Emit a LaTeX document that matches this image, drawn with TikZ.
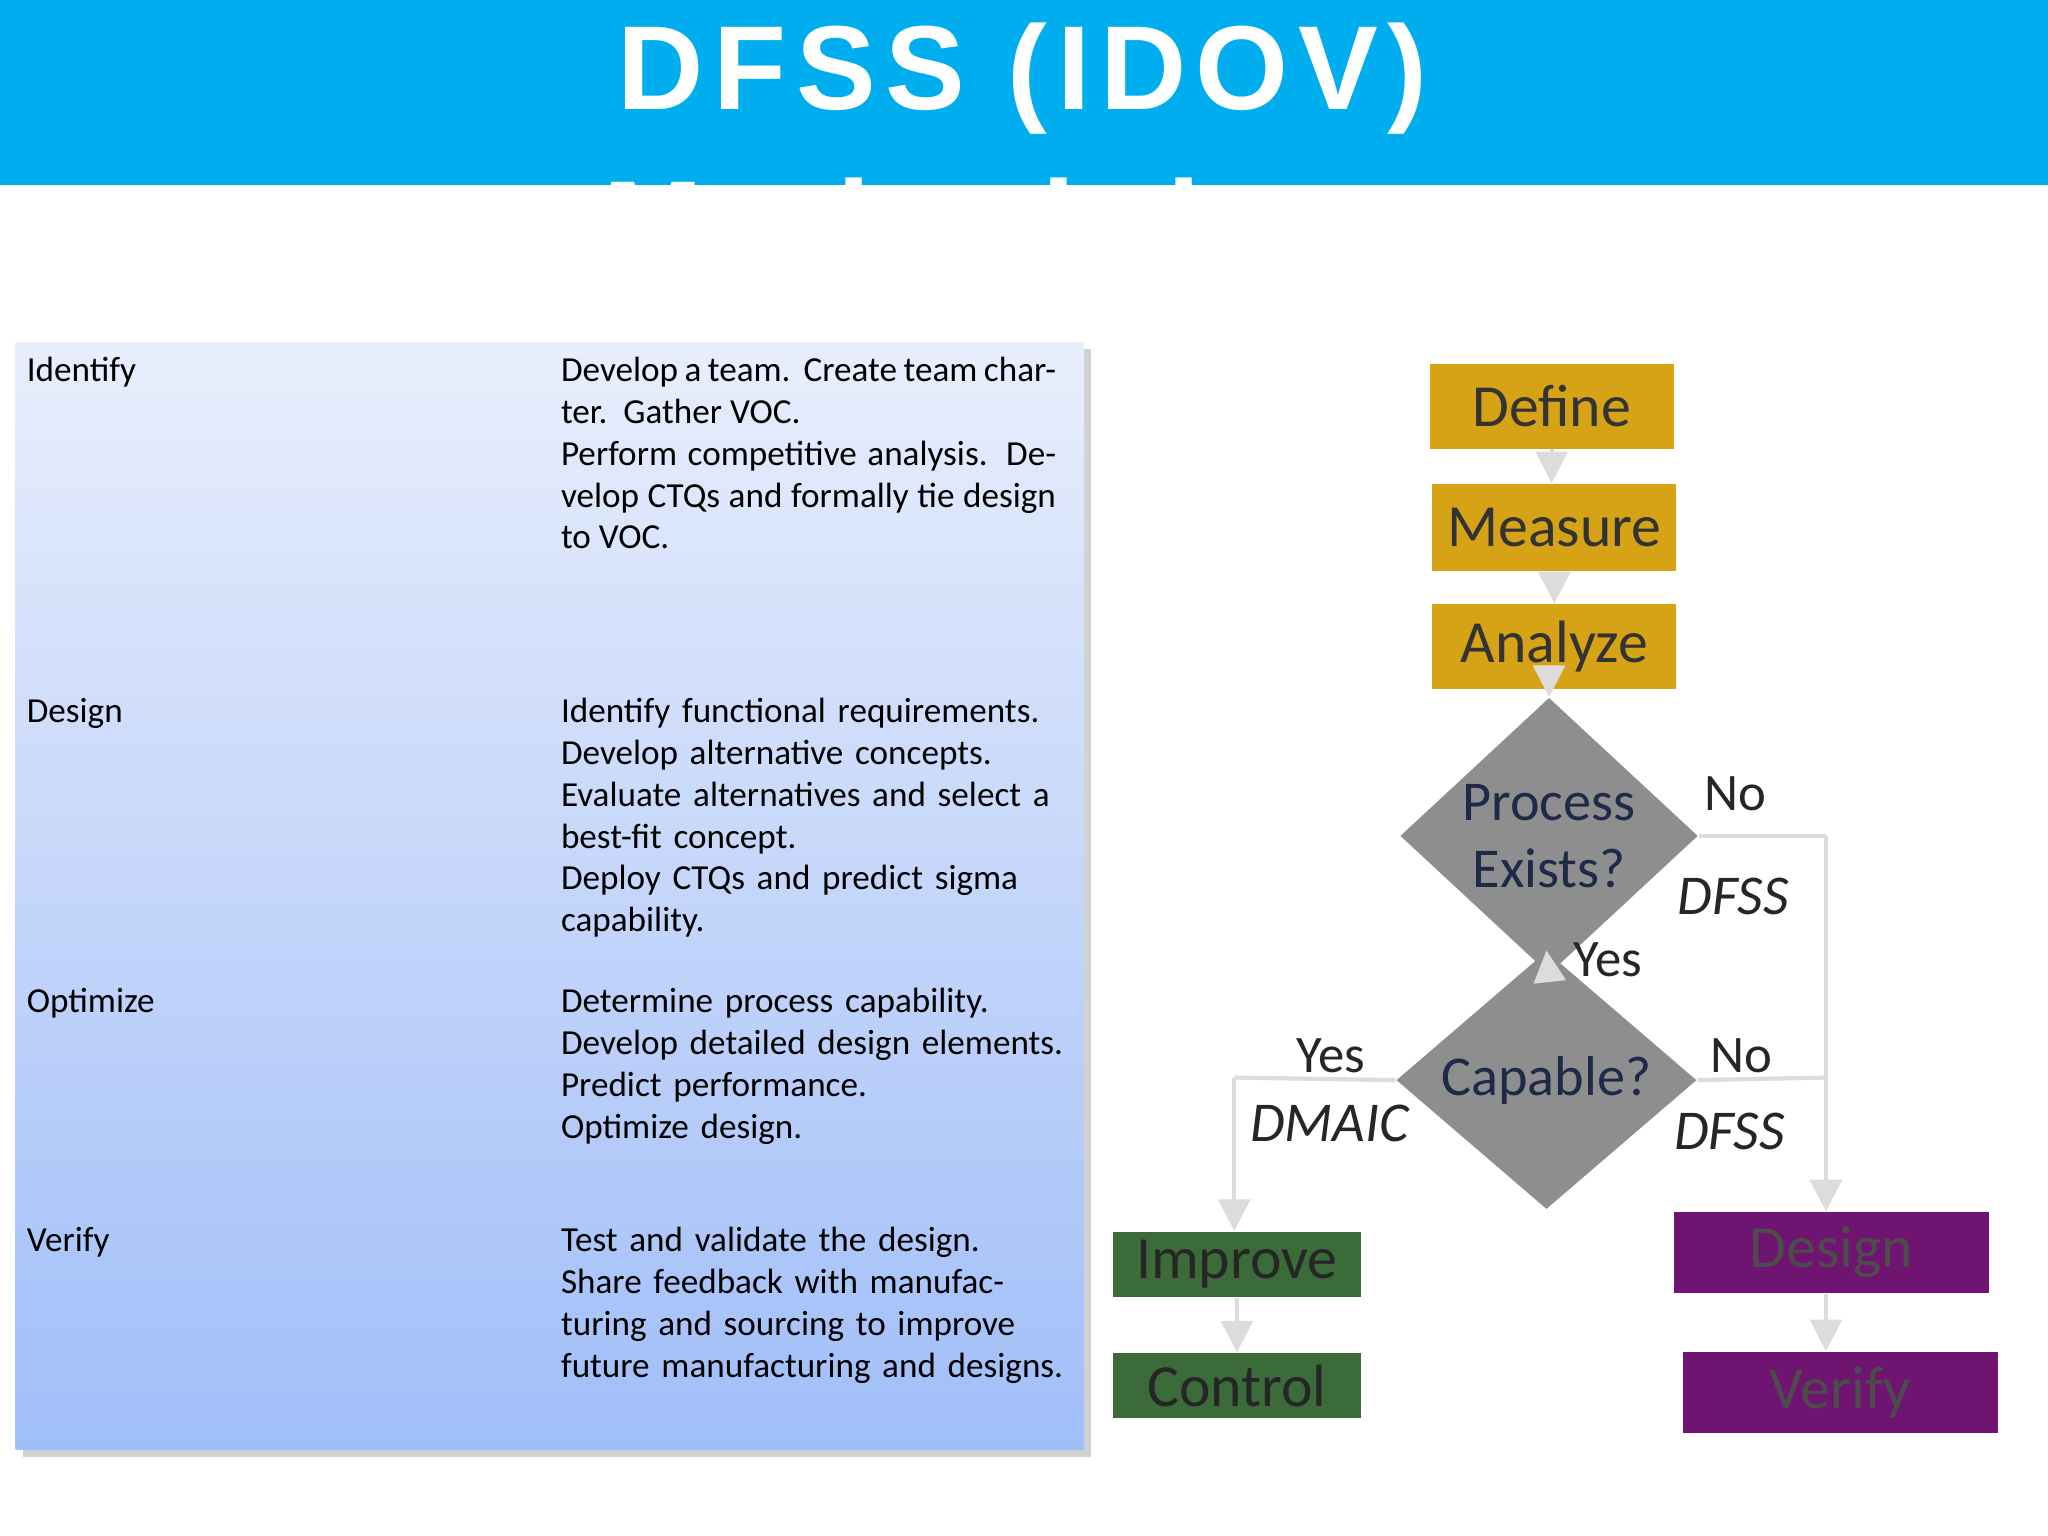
\documentclass[tikz,border=0pt]{standalone}
\usepackage{fontspec}
\setmainfont{Carlito}
\newfontfamily\titlefont[LetterSpace=8]{Liberation Sans}
\usetikzlibrary{shapes.geometric,arrows.meta,shadows}
\definecolor{bar}{HTML}{00AEEF}
\definecolor{gold}{HTML}{D6A317}
\definecolor{dgreen}{HTML}{3A6B38}
\definecolor{purp}{HTML}{701472}
\definecolor{dia}{HTML}{8E8E8E}
\definecolor{conn}{HTML}{DCDCDC}
\definecolor{navy}{HTML}{1F2A48}
\begin{document}
\begin{tikzpicture}[x=0.013061cm,y=-0.013061cm,
  box/.style={draw=none,minimum height=#1,inner sep=0pt,font=\fontsize{17}{19}\selectfont,text=black!80},
  dm/.style={diamond,fill=dia,inner sep=0pt,font=\fontsize{16}{19}\selectfont,text=navy,align=center},
  lab/.style={font=\fontsize{15}{18}\selectfont,text=black!85},
  ilab/.style={font=\fontsize{16}{18}\selectfont\itshape,text=black!85},
  cn/.style={draw=conn,line width=1.2pt},
  ar/.style={cn,-{Triangle[width=9pt,length=9pt]}},
  tx/.style={anchor=north west,font=\fontsize{10}{11.9}\selectfont,inner sep=0pt}]
\useasboundingbox (0,0) rectangle (1568,1176);
\fill[white] (0,0) rectangle (1568,1176);
% title bar
\begin{scope}
\clip (0,0) rectangle (1568,142);
\fill[bar] (0,0) rectangle (1568,142);
\node[text=white,font=\titlefont\bfseries\fontsize{34}{44}\selectfont,align=center,anchor=north] (title) at (783,8) {DFSS (IDOV)\\Methodology};
\end{scope}
% table
\shade[top color={rgb,255:red,232;green,238;blue,252},bottom color={rgb,255:red,160;green,190;blue,248},drop shadow={opacity=0.35,shadow xshift=2pt,shadow yshift=-2pt}] (12,262) rectangle (830,1110);
\node[tx] (l1) at (20,273) {Identify};
\node[tx] (l2) at (20,534) {Design};
\node[tx] (l3) at (20,756) {Optimize};
\node[tx] (l4) at (20,939) {Verify};
\node[tx,text width=4.95cm,align=justify] (r1) at (429,273) {Develop a team.\ \ Create team charter.\ \ Gather VOC.\\ Perform competitive analysis. Develop CTQs and formally tie design to VOC.};
\node[tx,text width=5.1cm,align=left] (r2) at (429,534) {Identify functional requirements.\\Develop alternative concepts.\\Evaluate alternatives and select a best-fit concept.\\Deploy CTQs and predict sigma capability.};
\node[tx,text width=5.1cm,align=left] (r3) at (429,756) {Determine process capability.\\Develop detailed design elements.\\Predict performance.\\Optimize design.};
\node[tx,text width=5.1cm,align=left] (r4) at (429,939) {Test and validate the design.\\Share feedback with manufacturing and sourcing to improve future manufacturing and designs.};
% flowchart
\node[box=65*0.013061cm,fill=gold,minimum width=187*0.013061cm] (def) at (1188,311) {Define};
\node[box=67*0.013061cm,fill=gold,minimum width=187*0.013061cm] (mea) at (1190,404) {Measure};
\node[box=65*0.013061cm,fill=gold,minimum width=187*0.013061cm] (ana) at (1190,495) {Analyze};
\node[dm,minimum width=228*0.013061cm,minimum height=160*0.013061cm] (d1) at (1186,640) {Process\\Exists?};
\node[dm,minimum width=230*0.013061cm,minimum height=150*0.013061cm] (d2) at (1184,827) {Capable?};
\node[box=50*0.013061cm,fill=dgreen,minimum width=190*0.013061cm,text=black!85] (imp) at (947,968) {Improve};
\node[box=50*0.013061cm,fill=dgreen,minimum width=190*0.013061cm,text=black!85] (ctl) at (947,1061) {Control};
\node[box=62*0.013061cm,fill=purp,minimum width=241*0.013061cm,text=black!70] (des) at (1402,959) {Design};
\node[box=62*0.013061cm,fill=purp,minimum width=241*0.013061cm,text=black!70] (ver) at (1409,1066) {Verify};
\coordinate (c1) at (1398,640);
\coordinate (c2) at (1398,825);
\coordinate (c3) at (945,825);
\draw[ar] (def) -- (def|-mea.north);
\draw[ar] (mea) -- (mea|-ana.north);
\draw[ar] (ana.south-|d1) -- (d1.north);
\draw[ar] (d1.south) -- (d2.north);
\draw[cn] (d1.east) -- (c1);
\draw[cn] (d2.east) -- (c2);
\draw[ar] (c1) -- (c1|-des.north);
\draw[cn] (d2.west) -- (c3);
\draw[ar] (c3) -- (imp.north-|c3);
\draw[ar] (imp) -- (ctl);
\draw[ar] (des.south-|c1) -- (ver.north-|c1);
\node[lab] (no1) at (1329,608) {No};
\node[ilab] (df1) at (1327,686) {DFSS};
\node[lab] (y1) at (1231,735) {Yes};
\node[lab] (y2) at (1019,808) {Yes};
\node[ilab] (dm) at (1018,860) {DMAIC};
\node[lab] (no2) at (1333,808) {No};
\node[ilab] (df2) at (1324,866) {DFSS};
\end{tikzpicture}
\end{document}
